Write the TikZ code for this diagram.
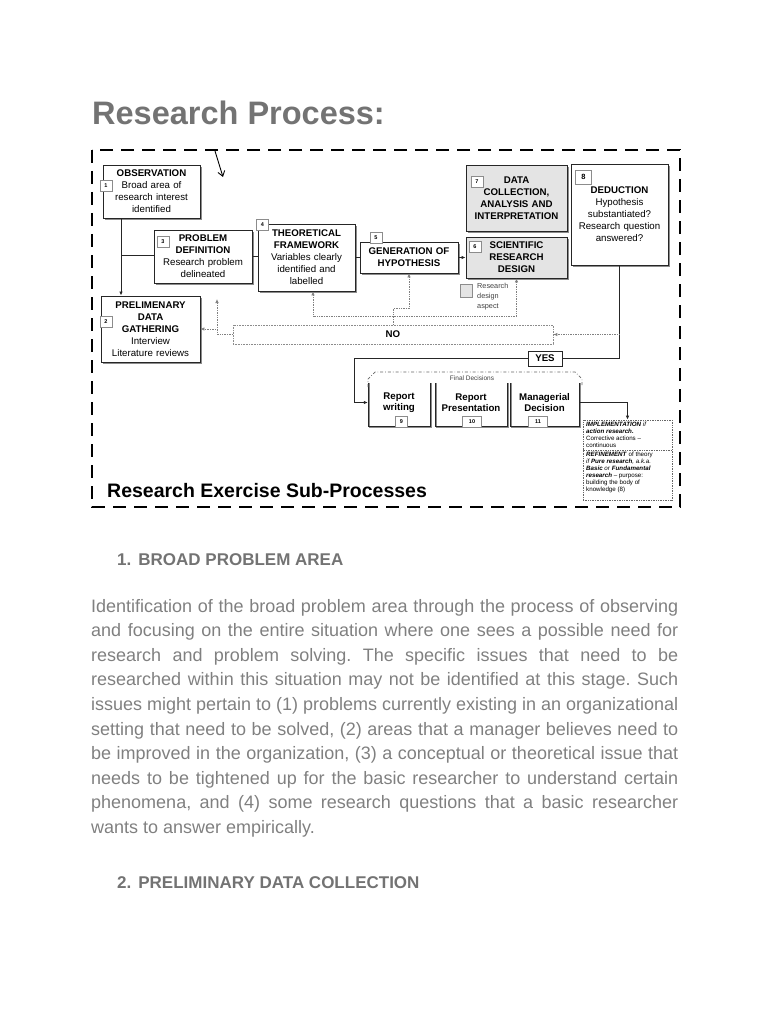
\documentclass[tikz,border=0pt]{standalone}
\usepackage{fontspec}
\setmainfont{Liberation Sans}
\usepackage{tikz}
\usetikzlibrary{arrows.meta,shadows}
\definecolor{titlegray}{HTML}{737373}
\definecolor{bodygray}{HTML}{808080}
\definecolor{aspect}{HTML}{E4E4E4}
\frenchspacing
\tikzset{
  box/.style={draw=black!85, line width=0.9pt, fill=white, inner sep=0pt, align=center,
    font=\fontsize{9.7}{12}\selectfont,
    drop shadow={shadow xshift=1.6pt, shadow yshift=-1.6pt, fill=black!45, opacity=1}},
  numbox/.style={draw=black!45, line width=0.5pt, fill=white, inner sep=0pt,
    minimum width=12pt, minimum height=11pt, font=\fontsize{5.5}{6}\selectfont\bfseries,
    drop shadow={shadow xshift=0.8pt, shadow yshift=-0.8pt, fill=black!30, opacity=1}},
  decbox/.style={inner sep=0pt, minimum height=43pt, align=center,
    font=\fontsize{9.7}{11.5}\selectfont\bfseries},
  link/.style={draw=black!85, line width=0.8pt},
  dline/.style={draw=black!50, densely dotted, line width=0.7pt},
  arr/.style={-{Latex[length=4pt,width=3.5pt]}},
  imptxt/.style={anchor=north west, align=left, inner sep=0pt, font=\fontsize{6.2}{7}\selectfont},
  bodytxt/.style={anchor=base west, inner sep=0pt, text=bodygray, font=\fontsize{18}{20}\selectfont},
}
\begin{document}
\begin{tikzpicture}[x=1pt,y=-1pt]
\useasboundingbox (0,0) rectangle (768,1024);

% title
\node[anchor=base west, inner sep=0pt, text=titlegray, font=\fontsize{32.5}{36}\selectfont\bfseries] (T) at (92,124.5) {Research Process:};

% frame
\draw[line width=1.6pt, dash pattern=on 13pt off 8pt] (92,150) rectangle (680,507);
\coordinate (h1) at (215,151);
\coordinate (h2) at (223,177);
\draw[line width=0.9pt, -{Straight Barb[length=5pt,width=7pt]}] (h1) -- (h2);

% main boxes
\node[box, text width=97pt, minimum height=53pt] (OBS) at (151.5,191.5) {\textbf{OBSERVATION}\\Broad area of\\research interest\\identified};
\node[box, text width=99pt, minimum height=66pt] (PDG) at (150.5,329) {\textbf{PRELIMENARY}\\\textbf{DATA}\\\textbf{GATHERING}\\Interview\\Literature reviews};
\node[box, text width=98pt, minimum height=53pt] (PRD) at (203,256.5) {\textbf{PROBLEM}\\\textbf{DEFINITION}\\Research problem\\delineated};
\node[box, text width=97pt, minimum height=67pt] (TFW) at (306.5,257.5) {\textbf{THEORETICAL}\\\textbf{FRAMEWORK}\\Variables clearly\\identified and\\labelled};
\node[box, text width=98pt, minimum height=31pt] (GEN) at (409,257.5) {\textbf{GENERATION OF}\\\textbf{HYPOTHESIS}};
\node[box, fill=aspect, text width=101pt, minimum height=41pt] (SRD) at (516.5,257.5) {\textbf{SCIENTIFIC}\\\textbf{RESEARCH}\\\textbf{DESIGN}};
\node[box, fill=aspect, text width=101pt, minimum height=66pt] (DCA) at (516.5,198) {\textbf{DATA}\\\textbf{COLLECTION,}\\\textbf{ANALYSIS AND}\\\textbf{INTERPRETATION}};
\node[box, text width=97pt, minimum height=101pt] (DED) at (619.5,214.5) {\textbf{DEDUCTION}\\Hypothesis\\substantiated?\\Research question\\answered?};

% legend
\node[draw=black!45, fill=aspect, minimum width=12pt, minimum height=13pt, inner sep=0pt] (LG) at (466,291) {};
\node[anchor=west, align=left, inner sep=0pt, text=black!75, font=\fontsize{7.3}{10}\selectfont] (LGT) at (477,297) {Research\\design\\aspect};

% decision bars
\node[draw=black!45, densely dotted, line width=0.6pt, minimum width=320pt, minimum height=19pt, inner sep=0pt, font=\fontsize{9.7}{12}\selectfont\bfseries] (NO) at (393,334.5) {NO};
\node[draw=black!85, line width=0.9pt, fill=white, minimum width=34pt, minimum height=15pt, inner sep=0pt, font=\fontsize{9.7}{12}\selectfont\bfseries] (YES) at (545,358.5) {YES};

% final decisions
\foreach \n/\x/\w in {RW/399/62,RP/471/72,MD/544.5/69}{
  \draw[black!45, line width=1.2pt] ({\x-\w/2+1.6},383) -- ({\x-\w/2+1.6},427.6) -- ({\x+\w/2+1.6},427.6) -- ({\x+\w/2+1.6},383);
  \draw[black!85, line width=0.9pt] ({\x-\w/2},383) -- ({\x-\w/2},426) -- ({\x+\w/2},426) -- ({\x+\w/2},383);
}
\node[decbox, minimum width=62pt] (RW) at (399,402.5) {Report\\writing};
\node[decbox, minimum width=72pt] (RP) at (471,402.5) {Report\\Presentation};
\node[decbox, minimum width=69pt] (MD) at (544.5,402.5) {Managerial\\Decision};
\draw[black!60, line width=0.7pt, dash dot] (368,387) -- (368,379) -- (375,372) -- (575,372) -- (582,379) -- (582,387);
\node[inner sep=0pt, text=black!75, font=\fontsize{6.5}{7}\selectfont] (FD) at (472,378.5) {Final Decisions};

% implementation / refinement
\node[draw=black!60, densely dotted, line width=0.7pt, minimum width=89pt, minimum height=80pt, inner sep=0pt] (IMP) at (627.5,460) {};
\draw[black!60, densely dotted, line width=0.7pt] ([yshift=10pt]IMP.west) -- ([yshift=10pt]IMP.east);
\node[imptxt] (IMP1) at (586,421.5) {\textbf{\textit{IMPLEMENTATION}} \textit{if}\\\textbf{\textit{action research.}}\\Corrective actions --\\continuous};
\node[imptxt] (IMP2) at (586,451.5) {\textbf{\textit{REFINEMENT}} of theory\\\textit{if \textbf{Pure research}, a.k.a.}\\\textbf{\textit{Basic}} \textit{or} \textbf{\textit{Fundamental}}\\\textbf{\textit{research}} -- purpose:\\building the body of\\knowledge (8)};

% numbers
\node[numbox] (n1) at (106,185.5) {1};
\node[numbox] (n2) at (106,322) {2};
\node[numbox] (n3) at (163,242) {3};
\node[numbox] (n4) at (262.5,225) {4};
\node[numbox] (n5) at (376,237.5) {5};
\node[numbox] (n6) at (475,247) {6};
\node[numbox] (n7) at (477,181.5) {7};
\node[numbox, minimum width=16pt, minimum height=14pt, font=\fontsize{7.5}{7}\selectfont\bfseries] (n8) at (583.5,177) {8};
\node[numbox] (n9) at (401.5,422) {9};
\node[numbox, minimum width=19pt] (n10) at (472,422) {10};
\node[numbox, minimum width=19pt] (n11) at (538,422) {11};

% connectors
\coordinate (j1) at (121,255);
\draw[link, arr] (OBS.south -| j1) -- (PDG.north -| j1);
\draw[link] (j1) -- (j1 -| PRD.west);
\draw[link] (PRD.east) -- (PRD.east -| TFW.west);
\draw[link] (TFW.east) -- (GEN.west);
\draw[link, arr] (GEN.east) -- (SRD.west);
\draw[link] (DED.south) |- (YES.east);
\draw[dline, arr] (DED.south |- NO.east) -- (NO.east);
\draw[link, arr] (YES.west) -| ([xshift=-13pt]RW.west) -- (RW.west);
\draw[link, arr] (MD.east) -| (IMP.north);
\coordinate (j2) at (217,334.5);
\coordinate (c1) at (217,299);
\draw[dline] (NO.west) -- (j2);
\draw[dline, arr] (j2) |- (PDG.east);
\draw[dline, arr] (j2) -- (c1);
\draw[dline, arr] (NO.north) -- ++(0,-16) -| (GEN.south);
\draw[dline, {Latex[length=4pt,width=3.5pt]}-{Latex[length=4pt,width=3.5pt]}] ([xshift=6.5pt]TFW.south) -- ++(0,25) -| (SRD.south);

\node[anchor=west, inner sep=0pt, font=\fontsize{19.5}{22}\selectfont\bfseries] (SUB) at (107,491) {Research Exercise Sub-Processes};

% text below
\node[anchor=base west, inner sep=0pt, text=titlegray, font=\fontsize{17}{20}\selectfont\bfseries] (H1) at (117,565) {1.\hspace{7pt}BROAD PROBLEM AREA};
\foreach \i/\t in {0/{Identification of the broad problem area through the process of observing},
  1/{and focusing on the entire situation where one sees a possible need for},
  2/{research and problem solving. The specific issues that need to be},
  3/{researched within this situation may not be identified at this stage. Such},
  4/{issues might pertain to (1) problems currently existing in an organizational},
  5/{setting that need to be solved, (2) areas that a manager believes need to},
  6/{be improved in the organization, (3) a conceptual or theoretical issue that},
  7/{needs to be tightened up for the basic researcher to understand certain},
  8/{phenomena, and (4) some research questions that a basic researcher}}
  \node[bodytxt] (L\i) at (91,{612+24.6*\i}) {\makebox[587pt][s]{\t}};
\node[bodytxt] (L9) at (91,{612+24.6*9}) {wants to answer empirically.};
\node[anchor=base west, inner sep=0pt, text=titlegray, font=\fontsize{17}{20}\selectfont\bfseries] (H2) at (117,888) {2.\hspace{7pt}PRELIMINARY DATA COLLECTION};
\end{tikzpicture}
\end{document}
